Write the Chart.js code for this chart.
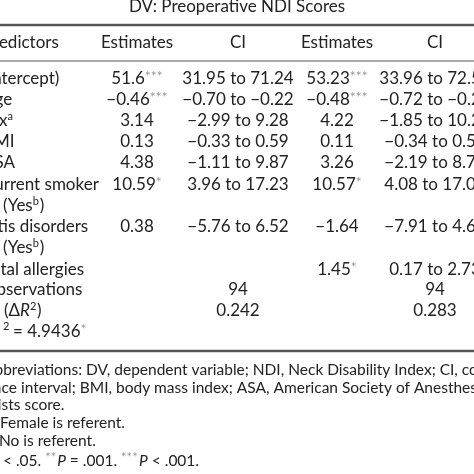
<!DOCTYPE html>
<html><head><meta charset="utf-8">
<script src="https://cdn.jsdelivr.net/npm/chart.js@4"></script>
<style>html,body{margin:0;padding:0;background:#fff;overflow:hidden}</style>
</head><body>
<canvas id="c" width="474" height="474"></canvas>
<script>
const title = "DV: Preoperative NDI Scores";
const headers = ["Predictors", "Estimates", "CI", "Estimates", "CI"];
const predictors = ["(Intercept)", "Age", "Sex", "BMI", "ASA", "Current smoker", "(Yes", "Arthritis disorders", "(Yes", "Total allergies", "Observations", "R", "χ"];
const est1 = ["51.6", "−0.46", "3.14", "0.13", "4.38", "10.59", "", "0.38", "", "", "", "", ""];
const stars1 = ["***", "***", "", "", "", "*", "", "", "", "", "", "", ""];
const ci1 = ["31.95 to 71.24", "−0.70 to −0.22", "−2.99 to 9.28", "−0.33 to 0.59", "−1.11 to 9.87", "3.96 to 17.23", "", "−5.76 to 6.52", "", "", "", "", ""];
const est2 = ["53.23", "−0.48", "4.22", "0.11", "3.26", "10.57", "", "−1.64", "", "1.45", "", "", ""];
const stars2 = ["***", "***", "", "", "", "*", "", "", "", "*", "", "", ""];
const ci2 = ["33.96 to 72.50", "−0.72 to −0.24", "−1.85 to 10.29", "−0.34 to 0.56", "−2.19 to 8.72", "4.08 to 17.06", "", "−7.91 to 4.62", "", "0.17 to 2.73", "", "", ""];
const spanned = ["", "", "", "", "", "", "", "", "", "", "94", "0.242", ""];
const spanned2 = ["", "", "", "", "", "", "", "", "", "", "94", "0.283", ""];
const footnotes = ["Abbreviations: DV, dependent variable; NDI, Neck Disability Index; CI, confi-",
 "dence interval; BMI, body mass index; ASA, American Society of Anesthesiol-",
 "ogists score.", "Female is referent.", "No is referent.", "P < .05. **P = .001. ***P < .001."];

// layout (positions in page units)
const rowY = [79,100,121,142,163,185,206,227,248,270,290,311,332];
const footY = [370,388,405,423,441,461];
const colX = [-17,137,238,337,435];

const FONT = "Lato, 'Open Sans', sans-serif";
const plugin = {
  id:'table',
  afterDraw(chart){
    const ctx = chart.ctx, X = v=>chart.scales.x.getPixelForValue(v), Y = v=>chart.scales.y.getPixelForValue(v);
    ctx.save();
    ctx.fillStyle = '#fff'; ctx.fillRect(0,0,474,474);
    ctx.fillStyle = '#222'; ctx.textBaseline = 'middle';
    const f = s=>ctx.font = s+"px "+FONT;
    f(17); ctx.textAlign='center'; ctx.fillText(title, X(237), Y(7));
    ctx.strokeStyle='#555';
    ctx.lineWidth=2.5; ctx.beginPath(); ctx.moveTo(X(0),Y(25)); ctx.lineTo(X(474),Y(25)); ctx.stroke();
    ctx.lineWidth=1.2; ctx.beginPath(); ctx.moveTo(X(0),Y(61)); ctx.lineTo(X(474),Y(61)); ctx.stroke();
    ctx.lineWidth=2.5; ctx.beginPath(); ctx.moveTo(X(0),Y(351)); ctx.lineTo(X(474),Y(351)); ctx.stroke();
    f(17);
    headers.forEach((h,i)=>{ctx.textAlign = i? 'center':'left'; ctx.fillText(h, X(colX[i]), Y(43));});
    const sup = (txt,x,y,size,col)=>{ctx.save(); f(size); ctx.fillStyle=col||'#222'; ctx.textAlign='left'; ctx.fillText(txt,x,y); ctx.restore();};
    const estWithStars = (v,s,cx,y)=>{
      if(!v) return;
      f(17);
      const w = ctx.measureText(v).width; ctx.save(); f(14); const ws = ctx.measureText(s).width; ctx.restore();
      const x0 = cx-(w+ws)/2; ctx.textAlign='left'; ctx.fillText(v,x0,y);
      if(s) sup(s,x0+w,y-3,14,'#999');
    };
    predictors.forEach((p,i)=>{
      const y = Y(rowY[i]); f(17); ctx.textAlign='left';
      let x = X(colX[0]);
      if(p==="(Yes"){ x = X(3); ctx.fillText(p,x,y); const w=ctx.measureText(p).width; sup("b",x+w,y-5,11); f(17); ctx.fillText(")",x+w+7,y); }
      else if(p==="Sex"){ ctx.fillText("Sex",x-2,y); const w=ctx.measureText("Sex").width; sup("a",x-2+w,y-5,11); }
      else if(p==="R"){ ctx.fillText("R",X(-20),y); sup("2",X(-20)+11,y-5,11); f(17); ctx.fillText("(Δ",X(4),y); const w=ctx.measureText("(Δ").width; ctx.font="italic 17px "+FONT; ctx.fillText("R",X(4)+w,y); const w2=ctx.measureText("R").width; sup("2",X(4)+w+w2,y-5,11); f(17); ctx.fillText(")",X(4)+w+w2+7,y); }
      else if(p==="χ"){ ctx.fillText("χ",X(-9),y); sup("2",X(3),y-6,11); f(17); ctx.fillText("= 4.9436",X(13),y); const w=ctx.measureText("= 4.9436").width; sup("*",X(13)+w,y-3,14,'#999'); }
      else if(p==="Arthritis disorders"){ ctx.fillText(p,X(-46),y); }
      else ctx.fillText(p,x,y);
      estWithStars(est1[i],stars1[i],X(colX[1]),y);
      estWithStars(est2[i],stars2[i],X(colX[3]),y);
      f(17); ctx.textAlign='center';
      if(ci1[i]) ctx.fillText(ci1[i],X(colX[2]),y);
      if(ci2[i]) ctx.fillText(ci2[i],X(colX[4]),y);
      if(spanned[i]) ctx.fillText(spanned[i],X(238),y);
      if(spanned2[i]) ctx.fillText(spanned2[i],X(435),y);
    });
    ctx.textAlign='left';
    const fx=[-16,-24,-19,-5,-6,-7];
    footnotes.forEach((t,i)=>{
      const y=Y(footY[i]); f(15.5);
      if(i===3||i===4){ sup(i===3?"a":"b",X(fx[i]-1),y-5,10); f(15.5); ctx.textAlign='left'; ctx.fillText(t,X(fx[i]+5),y); }
      else if(i===5){ sup("*",X(-14),y-3,13,'#999'); f(15.5); ctx.font="italic 15.5px "+FONT; ctx.fillText("P",X(-9),y); f(15.5); ctx.fillText(" < .05. ",X(-1),y);
        let x=X(-1)+ctx.measureText(" < .05. ").width; sup("**",x,y-3,13,'#999'); x+=12; ctx.font="italic 15.5px "+FONT; ctx.fillText("P",x,y); x+=ctx.measureText("P").width; f(15.5); ctx.fillText(" = .001. ",x,y); x+=ctx.measureText(" = .001. ").width; sup("***",x,y-3,13,'#999'); x+=18; ctx.font="italic 15.5px "+FONT; ctx.fillText("P",x,y); x+=ctx.measureText("P").width; f(15.5); ctx.fillText(" < .001.",x,y); }
      else ctx.fillText(t,X(fx[i]),y);
    });
    ctx.restore();
  }
};
new Chart(document.getElementById('c'),{
  type:'scatter', data:{datasets:[{data:[]}]},
  plugins:[plugin],
  options:{responsive:false, animation:false, events:[],
    layout:{padding:0},
    plugins:{legend:{display:false},tooltip:{enabled:false}},
    scales:{x:{type:'linear',min:0,max:474,display:false},y:{type:'linear',min:0,max:474,reverse:true,display:false}}}
});
</script>
</body></html>
